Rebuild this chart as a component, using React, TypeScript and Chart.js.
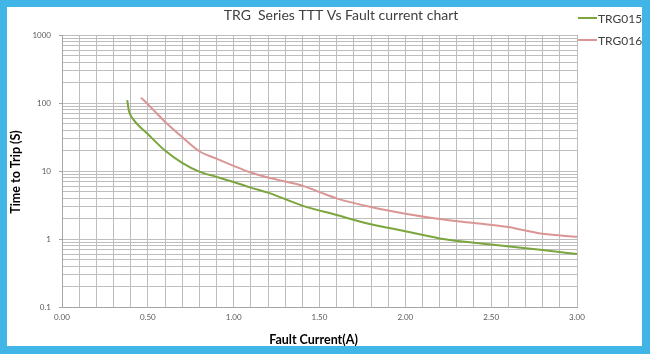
import { useEffect, useRef } from "react";
import { Chart, registerables } from "chart.js";

Chart.register(...registerables);

const chartTitle = "TRG  Series TTT Vs Fault current chart";
const xAxisTitle = "Fault Current(A)";
const yAxisTitle = "Time to Trip (S)";

const seriesNames = ["TRG015", "TRG016"];
const seriesColors = ["#7BA53D", "#D99694"];

const trg015Current = [0.38, 0.39, 0.41, 0.5, 0.6, 0.7, 0.8, 0.9, 1.0, 1.1, 1.2, 1.4, 1.6, 1.8, 2.0, 2.2, 2.5, 2.8, 3.0];
const trg015Time = [110, 76, 60, 35, 20, 13.2, 9.8, 8.2, 6.9, 5.7, 4.8, 3.1, 2.25, 1.65, 1.3, 1.02, 0.83, 0.69, 0.6];

const trg016Current = [0.46, 0.5, 0.6, 0.7, 0.8, 0.9, 1.0, 1.1, 1.2, 1.3, 1.4, 1.5, 1.6, 1.8, 2.0, 2.2, 2.4, 2.6, 2.7, 2.8, 3.0];
const trg016Time = [120, 96, 53, 31.5, 19.5, 15.2, 11.9, 9.5, 8.0, 7.0, 6.1, 4.9, 3.96, 2.95, 2.35, 1.97, 1.72, 1.5, 1.33, 1.19, 1.08];

const xMin = 0;
const xMax = 3;
const xStep = 0.1;
const xLabelTicks = [0, 0.5, 1, 1.5, 2, 2.5, 3];

const yMin = 0.1;
const yMax = 1000;
const yLabelTicks = [0.1, 1, 10, 100, 1000];

const FONT = "Lato, 'Open Sans', sans-serif";

function buildLogTicks() {
  const ticks: { value: number }[] = [];
  for (let e = -1; e < 3; e++) {
    for (let m = 1; m < 10; m++) {
      ticks.push({ value: parseFloat((m * Math.pow(10, e)).toPrecision(6)) });
    }
  }
  ticks.push({ value: yMax });
  return ticks;
}

const overlayPlugin = {
  id: "overlayText",
  afterDraw(chart: any) {
    const ctx = chart.ctx;
    const area = chart.chartArea;
    ctx.save();
    // title
    ctx.fillStyle = "#404040";
    ctx.textAlign = "center";
    ctx.textBaseline = "middle";
    ctx.font = `14px ${FONT}`;
    ctx.fillText(chartTitle, 334, 8);
    // x axis title
    ctx.fillStyle = "#000000";
    ctx.font = `bold 12.5px ${FONT}`;
    ctx.fillText(xAxisTitle, (area.left + area.right) / 2 - 6, 333);
    // y axis title
    ctx.save();
    ctx.translate(9, (area.top + area.bottom) / 2 + 1);
    ctx.rotate(-Math.PI / 2);
    ctx.fillText(yAxisTitle, 0, 0);
    ctx.restore();
    // legend
    ctx.textAlign = "left";
    ctx.font = `12px ${FONT}`;
    chart.data.datasets.forEach((ds: any, i: number) => {
      const y = 11 + i * 22;
      ctx.strokeStyle = ds.borderColor;
      ctx.lineWidth = 2;
      ctx.beginPath();
      ctx.moveTo(571, y);
      ctx.lineTo(590, y);
      ctx.stroke();
      ctx.fillStyle = "#404040";
      ctx.fillText(ds.label, 591, y + 1);
    });
    ctx.restore();
  },
};

export default function App() {
  const canvasRef = useRef<HTMLCanvasElement | null>(null);

  useEffect(() => {
    const canvas = canvasRef.current;
    if (!canvas) return;
    const toPoints = (xs: number[], ys: number[]) => xs.map((x, i) => ({ x, y: ys[i] }));
    const chart = new Chart(canvas, {
      type: "line",
      data: {
        datasets: [
          {
            label: seriesNames[0],
            data: toPoints(trg015Current, trg015Time),
            borderColor: seriesColors[0],
            backgroundColor: seriesColors[0],
            borderWidth: 2,
            pointRadius: 0,
            tension: 0.4,
            cubicInterpolationMode: "monotone",
          },
          {
            label: seriesNames[1],
            data: toPoints(trg016Current, trg016Time),
            borderColor: seriesColors[1],
            backgroundColor: seriesColors[1],
            borderWidth: 2,
            pointRadius: 0,
            tension: 0.4,
            cubicInterpolationMode: "monotone",
          },
        ],
      },
      options: {
        responsive: false,
        animation: false,
        layout: { padding: { top: 28, right: 65, left: 0, bottom: 0 } },
        plugins: {
          legend: { display: false },
          title: { display: false },
          tooltip: { enabled: false },
        },
        scales: {
          x: {
            type: "linear",
            min: xMin,
            max: xMax,
            afterFit: (scale: any) => {
              scale.height = 39;
            },
            ticks: {
              stepSize: xStep,
              autoSkip: false,
              maxRotation: 0,
              padding: 6,
              color: "#595959",
              font: { family: FONT, size: 8 },
              callback: (v: any) => {
                const n = Number(v);
                return xLabelTicks.some((t) => Math.abs(t - n) < 1e-6) ? n.toFixed(2) : "";
              },
            },
            grid: {
              color: "#BDBDBD",
              lineWidth: 1,
              drawTicks: false,
            },
            border: { display: true, color: "#A6A6A6" },
          },
          y: {
            type: "logarithmic",
            min: yMin,
            max: yMax,
            afterFit: (scale: any) => {
              scale.width = 55;
            },
            afterBuildTicks: (scale: any) => {
              scale.ticks = buildLogTicks();
            },
            ticks: {
              autoSkip: false,
              padding: 8,
              color: "#595959",
              font: { family: FONT, size: 8 },
              callback: (v: any) => {
                const n = Number(v);
                return yLabelTicks.some((t) => Math.abs(t - n) / t < 1e-6) ? String(n) : "";
              },
            },
            grid: {
              color: "#BDBDBD",
              lineWidth: 1,
              drawTicks: true,
              tickLength: 3,
              tickColor: (ctx: any) => {
                const v = ctx.tick ? ctx.tick.value : 0;
                return yLabelTicks.some((t) => Math.abs(t - v) / t < 1e-6) ? "#A6A6A6" : "rgba(0,0,0,0)";
              },
            },
            border: { display: true, color: "#A6A6A6" },
          },
        },
      },
      plugins: [overlayPlugin],
    });
    return () => chart.destroy();
  }, []);

  return (
    <div
      style={{
        position: "fixed",
        left: 0,
        top: 0,
        width: 650,
        height: 354,
        background: "#41B6E6",
      }}
    >
      <div
        style={{
          position: "absolute",
          left: 7,
          top: 7,
          width: 635,
          height: 339,
          background: "#FFFFFF",
        }}
      >
        <canvas ref={canvasRef} width={635} height={339} style={{ display: "block" }} />
      </div>
    </div>
  );
}
